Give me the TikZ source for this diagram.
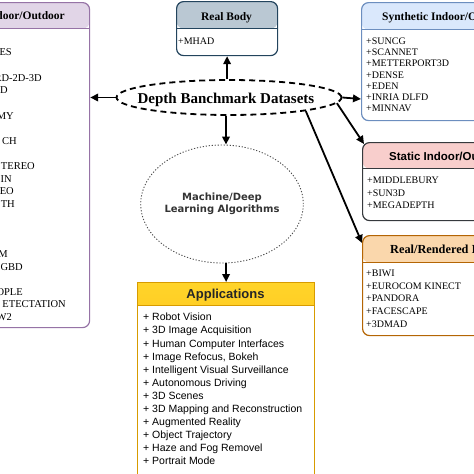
\documentclass[tikz,border=0pt]{standalone}
\usepackage{fontspec}
\setmainfont{Liberation Serif}
\newfontfamily\arialf{Liberation Sans}
\newfontfamily\dejaf{DejaVu Sans}
\usetikzlibrary{arrows.meta,shapes.geometric,calc}
\definecolor{purpF}{HTML}{E1D5E7}\definecolor{purpD}{HTML}{9673A6}
\definecolor{bodyF}{HTML}{BAC8D3}\definecolor{bodyD}{HTML}{23445D}
\definecolor{synF}{HTML}{DAE8FC}\definecolor{synD}{HTML}{6C8EBF}
\definecolor{statF}{HTML}{F8CECC}\definecolor{statD}{HTML}{36393D}
\definecolor{rrF}{HTML}{FAD7AC}\definecolor{rrD}{HTML}{B46504}
\definecolor{appT}{HTML}{FFD42A}\definecolor{appB}{HTML}{FFA500}\definecolor{appD}{HTML}{D79B00}
\tikzset{
  lane/.style n args={3}{draw=#2, line width=1.2pt, rounded corners=7pt, fill=white,
    anchor=north west, inner sep=0pt,
    path picture={
      \fill[#1] (path picture bounding box.north west) rectangle ([yshift=-#3]path picture bounding box.north east);
      \draw[#2, line width=1.2pt] ([yshift=-#3]path picture bounding box.north west) -- ([yshift=-#3]path picture bounding box.north east);
    }},
  hdrT/.style={font=\bfseries\fontsize{11.5}{13}\selectfont, inner sep=0pt},
  hdrA/.style={font=\arialf\bfseries\fontsize{11.5}{13}\selectfont, inner sep=0pt},
  itm/.style={font=\fontsize{10}{12}\selectfont, inner sep=0pt, anchor=base west, text=black},
  litm/.style={font=\fontsize{10.5}{12.6}\selectfont, inner sep=0pt, anchor=base east, text=black},
  aitm/.style={font=\arialf\fontsize{10.5}{12}\selectfont, inner sep=0pt, anchor=base west, text=black},
  arr/.style={-{Triangle[length=8pt,width=7.5pt]}, line width=1.8pt, black},
}
\begin{document}
\begin{tikzpicture}[x=1pt,y=-1pt]
\useasboundingbox (0,0) rectangle (474,474);
\clip (0,0) rectangle (474,474);

% left box
\node[lane={purpF}{purpD}{26pt}, minimum width=209pt, minimum height=325pt] (lbox) at (-120,2) {};
\node[hdrT, anchor=base east] (lhdr) at (65,19.5) {Indoor/Outdoor};
\foreach \t/\yy/\xe [count=\i] in {ES/52/12, RD-2D-3D/78/42, D/90/8, MY/116/14, CH/141/17, TEREO/166/35, IN/179/12, EO/191/14, TH/204/15, M/254/8, GBD/267/23, OPLE/292/23, ETECTATION/304/66, W2/317/12}
  \node[litm] (lf\i) at (\xe,{\yy+3.6}) {\t};

% real body
\node[lane={bodyF}{bodyD}{27pt}, minimum width=101pt, minimum height=54pt] (rb) at (176,1) {};
\node[hdrT, anchor=base] (rbh) at (226.5,20) {Real Body};
\node[itm] (rb1) at (178,44.5) {+MHAD};

% synthetic
\node[lane={synF}{synD}{27pt}, minimum width=170pt, minimum height=118pt] (syn) at (361,2) {};
\node[hdrT, anchor=base west] (synh) at (382,20) {Synthetic Indoor/Outdoor};
\foreach \t [count=\i] in {+SUNCG,+SCANNET,+METTERPORT3D,+DENSE,+EDEN,+INRIA DLFD,+MINNAV}
  \node[itm] (syn\i) at (366,{41+11.2*(\i-1)+3.5}) {\t};

% static
\node[lane={statF}{statD}{26pt}, minimum width=170pt, minimum height=78pt] (stat) at (362,142) {};
\node[hdrA, anchor=base west] (stath) at (389,160) {Static Indoor/Outdoor};
\foreach \t [count=\i] in {+MIDDLEBURY,+SUN3D,+MEGADEPTH}
  \node[itm] (stat\i) at (367,{180+12.5*(\i-1)+3.5}) {\t};

% real/rendered
\node[lane={rrF}{rrD}{27pt}, minimum width=170pt, minimum height=100pt] (rr) at (362,235) {};
\node[hdrT, font=\bfseries\fontsize{12.3}{14}\selectfont, anchor=base west] (rrh) at (390,253) {Real/Rendered Indoor};
\foreach \t [count=\i] in {+BIWI,+EUROCOM KINECT,+PANDORA,+FACESCAPE,+3DMAD}
  \node[itm] (rr\i) at (366,{273+12.7*(\i-1)+3.5}) {\t};

% applications
\node[draw=appD, line width=1.2pt, fill=white, anchor=north west, inner sep=0pt,
  minimum width=177pt, minimum height=200pt,
  path picture={
    \shade[top color=appT, bottom color=appB] (path picture bounding box.north west) rectangle ([yshift=-23pt]path picture bounding box.north east);
    \draw[appD, line width=1.2pt] ([yshift=-23pt]path picture bounding box.north west) -- ([yshift=-23pt]path picture bounding box.north east);
  }] (apps) at (137,282) {};
\node[font=\arialf\bfseries\fontsize{13}{15}\selectfont, inner sep=0pt, anchor=base, text=black!85] (appsh) at (225.5,298.5) {Applications};
\foreach \t [count=\i] in {+ Robot Vision,+ 3D Image Acquisition,+ Human Computer Interfaces,{+ Image Refocus, Bokeh},+ Intelligent Visual Surveillance,+ Autonomous Driving,+ 3D Scenes,+ 3D Mapping and Reconstruction,+ Augmented Reality,+ Object Trajectory,+ Haze and Fog Removel,+ Portrait Mode}
  \node[aitm] (app\i) at (143,{317+13.1*(\i-1)+3.8}) {\t};

% central ellipse
\node[ellipse, draw, line width=1.8pt, dash pattern=on 6pt off 4pt, minimum width=225pt, minimum height=35pt,
  inner sep=0pt] (ds) at (229,97.5) {};
\node[font=\bfseries\fontsize{15}{17}\selectfont, inner sep=0pt, anchor=base] (dst) at (226,103) {Depth Banchmark Datasets};

% ML circle
\node[ellipse, draw=black!70, line width=0.9pt, dash pattern=on 1.2pt off 1.8pt, minimum width=127pt, minimum height=118pt,
  align=center, inner sep=0pt, font=\dejaf\bfseries\fontsize{10}{12}\selectfont, text=black!80] (ml) at (222,204) {Machine/Deep\\Learning Algorithms};

% connectors
\draw[arr] (ds.north -| rb.south) -- (rb.south);
\draw[arr] (ds.west) -- (ds.west -| lbox.east);
\draw[arr] ([xshift=-3pt]ds.south) -- ([xshift=-3pt]ds.south |- ml.north);
\draw[arr] (ml.south -| apps.north) -- (apps.north);
\draw[arr] (ds.east) -- ($(syn.north west)+(0,97)$);
\draw[arr] (ds.-3) -- ($(stat.north west)+(2,2)$);
\draw[arr] (ds.-10) -- ($(rr.north west)+(0,8)$);
\end{tikzpicture}
\end{document}
